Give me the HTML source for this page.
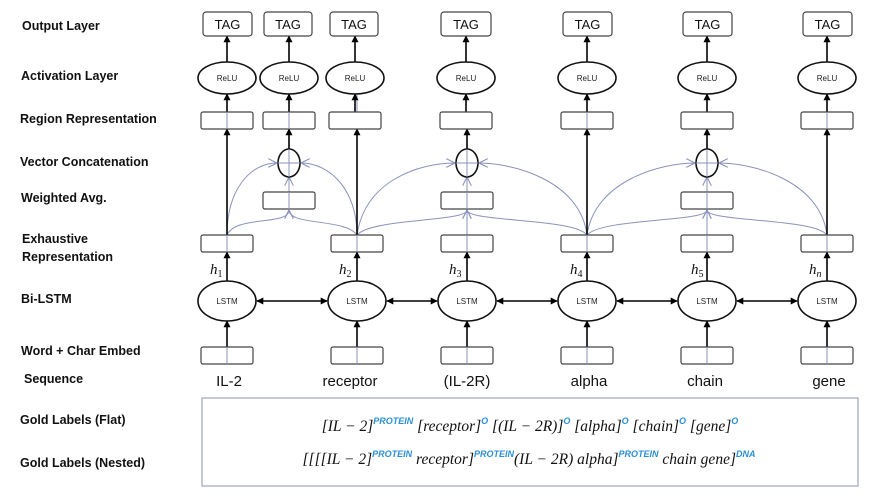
<!DOCTYPE html>
<html><head><meta charset="utf-8"><style>
html,body{margin:0;padding:0;background:#fff;}
svg{display:block;}
.lbl{font-family:"Liberation Sans",sans-serif;font-weight:bold;font-size:12.5px;fill:#111;}
.box{fill:#fff;stroke:#444;stroke-width:1.2;}
.ell{fill:#fff;stroke:#111;stroke-width:1.6;}
.blk{stroke:#000;stroke-width:1.6;fill:none;}
.blu{stroke:#8a93bd;stroke-width:1;fill:none;}
.sm{font-family:"Liberation Sans",sans-serif;font-size:8px;fill:#222;}
.tag{font-family:"Liberation Sans",sans-serif;font-size:13px;fill:#111;}
.word{font-family:"Liberation Sans",sans-serif;font-size:15px;fill:#111;}
.h{font-family:"Liberation Serif",serif;font-style:italic;font-size:15px;fill:#111;}
.hs{font-family:"Liberation Serif",serif;font-size:10px;fill:#111;}
.m{font-family:"Liberation Serif",serif;font-style:italic;font-size:15.5px;fill:#111;}
.sup{font-family:"Liberation Sans",sans-serif;font-style:italic;font-weight:bold;font-size:9px;fill:#2a8fd6;}
</style></head><body>
<svg width="886" height="498" viewBox="0 0 886 498" xmlns="http://www.w3.org/2000/svg">
<defs>
<marker id="ah" viewBox="0 0 10 10" refX="9" refY="5" markerWidth="7" markerHeight="7" orient="auto-start-reverse" markerUnits="userSpaceOnUse"><path d="M0,0 L10,5 L0,10 z" fill="#000"/></marker>
<marker id="bh" viewBox="0 0 10 10" refX="10" refY="5" markerWidth="9" markerHeight="9" orient="auto" markerUnits="userSpaceOnUse"><path d="M0,0 L10,5 L0,10" fill="none" stroke="#8a93bd" stroke-width="1.2"/></marker>
</defs>

<text class="lbl" x="22" y="30">Output Layer</text>
<text class="lbl" x="21" y="80">Activation Layer</text>
<text class="lbl" x="20" y="123">Region Representation</text>
<text class="lbl" x="20" y="166">Vector Concatenation</text>
<text class="lbl" x="21" y="202">Weighted Avg.</text>
<text class="lbl" x="22" y="243">Exhaustive</text>
<text class="lbl" x="22" y="261">Representation</text>
<text class="lbl" x="21" y="303">Bi-LSTM</text>
<text class="lbl" x="21" y="355">Word + Char Embed</text>
<text class="lbl" x="24" y="383">Sequence</text>
<text class="lbl" x="20" y="424">Gold Labels (Flat)</text>
<text class="lbl" x="20" y="467">Gold Labels (Nested)</text>

<g class="blu">
<line x1="227" y1="364" x2="227" y2="94"/>
<line x1="357" y1="364" x2="357" y2="94"/>
<line x1="467" y1="364" x2="467" y2="235"/>
<line x1="587" y1="364" x2="587" y2="94"/>
<line x1="707" y1="364" x2="707" y2="235"/>
<line x1="827" y1="364" x2="827" y2="94"/>
<line x1="289" y1="209" x2="289" y2="177" marker-end="url(#bh)"/>
<line x1="467" y1="235" x2="467" y2="177" marker-end="url(#bh)"/>
<line x1="707" y1="235" x2="707" y2="177" marker-end="url(#bh)"/>
</g>

<g class="blu">
<path d="M227 235 C227 190, 250 163, 277 163" marker-end="url(#bh)"/>
<path d="M227 235 C236 215, 289 226, 289 210" marker-end="url(#bh)"/>
<path d="M357 235 C357 190, 330 163, 301 163" marker-end="url(#bh)"/>
<path d="M357 235 C345 218, 289 226, 289 210" marker-end="url(#bh)"/>
<path d="M357 235 C365 180, 420 163, 455 163" marker-end="url(#bh)"/>
<path d="M357 235 C372 218, 467 222, 467 210" marker-end="url(#bh)"/>
<path d="M587 235 C580 180, 512 163, 479 163" marker-end="url(#bh)"/>
<path d="M587 235 C574 218, 467 222, 467 210" marker-end="url(#bh)"/>
<path d="M587 235 C595 180, 662 163, 695 163" marker-end="url(#bh)"/>
<path d="M587 235 C602 218, 707 222, 707 210" marker-end="url(#bh)"/>
<path d="M827 235 C820 180, 752 163, 719 163" marker-end="url(#bh)"/>
<path d="M827 235 C814 218, 707 222, 707 210" marker-end="url(#bh)"/>
</g>

<g class="blk" marker-end="url(#ah)">
<line x1="227" y1="347" x2="227" y2="321"/><line x1="357" y1="347" x2="357" y2="321"/>
<line x1="467" y1="347" x2="467" y2="321"/><line x1="587" y1="347" x2="587" y2="321"/>
<line x1="707" y1="347" x2="707" y2="321"/><line x1="827" y1="347" x2="827" y2="321"/>
<line x1="227" y1="281" x2="227" y2="252"/><line x1="357" y1="281" x2="357" y2="252"/>
<line x1="467" y1="281" x2="467" y2="252"/><line x1="587" y1="281" x2="587" y2="252"/>
<line x1="707" y1="281" x2="707" y2="252"/><line x1="827" y1="281" x2="827" y2="252"/>
<line x1="227" y1="235" x2="227" y2="129"/><line x1="357" y1="235" x2="357" y2="129"/>
<line x1="587" y1="235" x2="587" y2="129"/><line x1="827" y1="235" x2="827" y2="129"/>
<line x1="289" y1="149" x2="289" y2="129"/><line x1="467" y1="149" x2="467" y2="129"/>
<line x1="707" y1="149" x2="707" y2="129"/>
<line x1="227" y1="112" x2="227" y2="94"/><line x1="289" y1="112" x2="289" y2="94"/>
<line x1="355" y1="112" x2="355" y2="94"/><line x1="466" y1="112" x2="466" y2="94"/>
<line x1="587" y1="112" x2="587" y2="94"/><line x1="707" y1="112" x2="707" y2="94"/>
<line x1="827" y1="112" x2="827" y2="94"/>
<line x1="227" y1="62" x2="227" y2="36"/><line x1="289" y1="62" x2="289" y2="36"/>
<line x1="355" y1="62" x2="355" y2="36"/><line x1="466" y1="62" x2="466" y2="36"/>
<line x1="587" y1="62" x2="587" y2="36"/><line x1="707" y1="62" x2="707" y2="36"/>
<line x1="827" y1="62" x2="827" y2="36"/>
</g>
<g class="blk" marker-start="url(#ah)" marker-end="url(#ah)">
<line x1="257" y1="301" x2="327" y2="301"/>
<line x1="387" y1="301" x2="437" y2="301"/>
<line x1="497" y1="301" x2="557" y2="301"/>
<line x1="617" y1="301" x2="677" y2="301"/>
<line x1="737" y1="301" x2="797" y2="301"/>
</g>

<g>
<rect class="box" x="203" y="12" width="49" height="24" rx="3"/><text class="tag" x="227.5" y="29" text-anchor="middle">TAG</text>
<rect class="box" x="264" y="12" width="48" height="24" rx="3"/><text class="tag" x="288" y="29" text-anchor="middle">TAG</text>
<rect class="box" x="330" y="12" width="48" height="24" rx="3"/><text class="tag" x="354" y="29" text-anchor="middle">TAG</text>
<rect class="box" x="441" y="12" width="50" height="24" rx="3"/><text class="tag" x="466" y="29" text-anchor="middle">TAG</text>
<rect class="box" x="563" y="12" width="49" height="24" rx="3"/><text class="tag" x="587.5" y="29" text-anchor="middle">TAG</text>
<rect class="box" x="683" y="12" width="49" height="24" rx="3"/><text class="tag" x="707.5" y="29" text-anchor="middle">TAG</text>
<rect class="box" x="803" y="12" width="49" height="24" rx="3"/><text class="tag" x="827.5" y="29" text-anchor="middle">TAG</text>
</g>

<g>
<ellipse class="ell" cx="227" cy="78" rx="29" ry="16"/><text class="sm" x="227" y="81" text-anchor="middle">ReLU</text>
<ellipse class="ell" cx="289" cy="78" rx="29" ry="16"/><text class="sm" x="289" y="81" text-anchor="middle">ReLU</text>
<ellipse class="ell" cx="355" cy="78" rx="29" ry="16"/><text class="sm" x="355" y="81" text-anchor="middle">ReLU</text>
<ellipse class="ell" cx="466" cy="78" rx="29" ry="16"/><text class="sm" x="466" y="81" text-anchor="middle">ReLU</text>
<ellipse class="ell" cx="587" cy="78" rx="29" ry="16"/><text class="sm" x="587" y="81" text-anchor="middle">ReLU</text>
<ellipse class="ell" cx="707" cy="78" rx="29" ry="16"/><text class="sm" x="707" y="81" text-anchor="middle">ReLU</text>
<ellipse class="ell" cx="827" cy="78" rx="29" ry="16"/><text class="sm" x="827" y="81" text-anchor="middle">ReLU</text>
</g>

<g>
<rect class="box" x="201" y="112" width="52" height="17" rx="2"/>
<rect class="box" x="263" y="112" width="52" height="17" rx="2"/>
<rect class="box" x="329" y="112" width="52" height="17" rx="2"/>
<rect class="box" x="440" y="112" width="52" height="17" rx="2"/>
<rect class="box" x="561" y="112" width="52" height="17" rx="2"/>
<rect class="box" x="681" y="112" width="52" height="17" rx="2"/>
<rect class="box" x="801" y="112" width="52" height="17" rx="2"/>
</g>
<line class="blu" x1="227" y1="129" x2="227" y2="112"/><line class="blu" x1="289" y1="129" x2="289" y2="112"/>
<line class="blu" x1="587" y1="129" x2="587" y2="112"/><line class="blu" x1="827" y1="129" x2="827" y2="112"/>

<g>
<ellipse class="ell" cx="289" cy="163" rx="11" ry="14"/>
<ellipse class="ell" cx="467" cy="163" rx="11" ry="14"/>
<ellipse class="ell" cx="707" cy="163" rx="11" ry="14"/>
</g>
<g class="blu">
<line x1="278" y1="163" x2="300" y2="163"/><line x1="289" y1="149" x2="289" y2="177"/>
<line x1="456" y1="163" x2="478" y2="163"/><line x1="467" y1="149" x2="467" y2="177"/>
<line x1="696" y1="163" x2="718" y2="163"/><line x1="707" y1="149" x2="707" y2="177"/>
</g>

<g>
<rect class="box" x="263" y="192" width="52" height="17" rx="2"/>
<rect class="box" x="441" y="192" width="52" height="17" rx="2"/>
<rect class="box" x="681" y="192" width="52" height="17" rx="2"/>
</g>
<g class="blu">
<line x1="289" y1="209" x2="289" y2="192"/><line x1="467" y1="209" x2="467" y2="192"/><line x1="707" y1="209" x2="707" y2="192"/>
</g>

<g>
<rect class="box" x="201" y="235" width="52" height="17" rx="2"/>
<rect class="box" x="331" y="235" width="52" height="17" rx="2"/>
<rect class="box" x="441" y="235" width="52" height="17" rx="2"/>
<rect class="box" x="561" y="235" width="52" height="17" rx="2"/>
<rect class="box" x="681" y="235" width="52" height="17" rx="2"/>
<rect class="box" x="801" y="235" width="52" height="17" rx="2"/>
</g>
<g class="blu">
<line x1="227" y1="252" x2="227" y2="235"/><line x1="357" y1="252" x2="357" y2="235"/><line x1="467" y1="252" x2="467" y2="235"/>
<line x1="587" y1="252" x2="587" y2="235"/><line x1="707" y1="252" x2="707" y2="235"/><line x1="827" y1="252" x2="827" y2="235"/>
</g>

<text class="h" x="210" y="274">h<tspan class="hs" dy="3" font-style="normal">1</tspan></text>
<text class="h" x="339" y="274">h<tspan class="hs" dy="3" font-style="normal">2</tspan></text>
<text class="h" x="449" y="274">h<tspan class="hs" dy="3" font-style="normal">3</tspan></text>
<text class="h" x="570" y="274">h<tspan class="hs" dy="3" font-style="normal">4</tspan></text>
<text class="h" x="691" y="274">h<tspan class="hs" dy="3" font-style="normal">5</tspan></text>
<text class="h" x="809" y="274">h<tspan class="hs" dy="3">n</tspan></text>

<g>
<ellipse class="ell" cx="227" cy="301" rx="29" ry="20"/><text class="sm" x="227" y="304" text-anchor="middle">LSTM</text>
<ellipse class="ell" cx="357" cy="301" rx="29" ry="20"/><text class="sm" x="357" y="304" text-anchor="middle">LSTM</text>
<ellipse class="ell" cx="467" cy="301" rx="29" ry="20"/><text class="sm" x="467" y="304" text-anchor="middle">LSTM</text>
<ellipse class="ell" cx="587" cy="301" rx="29" ry="20"/><text class="sm" x="587" y="304" text-anchor="middle">LSTM</text>
<ellipse class="ell" cx="707" cy="301" rx="29" ry="20"/><text class="sm" x="707" y="304" text-anchor="middle">LSTM</text>
<ellipse class="ell" cx="827" cy="301" rx="29" ry="20"/><text class="sm" x="827" y="304" text-anchor="middle">LSTM</text>
</g>

<g>
<rect class="box" x="201" y="347" width="52" height="17" rx="2"/>
<rect class="box" x="331" y="347" width="52" height="17" rx="2"/>
<rect class="box" x="441" y="347" width="52" height="17" rx="2"/>
<rect class="box" x="561" y="347" width="52" height="17" rx="2"/>
<rect class="box" x="681" y="347" width="52" height="17" rx="2"/>
<rect class="box" x="801" y="347" width="52" height="17" rx="2"/>
</g>
<g class="blu">
<line x1="227" y1="364" x2="227" y2="347"/><line x1="357" y1="364" x2="357" y2="347"/><line x1="467" y1="364" x2="467" y2="347"/>
<line x1="587" y1="364" x2="587" y2="347"/><line x1="707" y1="364" x2="707" y2="347"/><line x1="827" y1="364" x2="827" y2="347"/>
</g>

<text class="word" x="229" y="386" text-anchor="middle">IL-2</text>
<text class="word" x="350" y="386" text-anchor="middle">receptor</text>
<text class="word" x="467" y="386" text-anchor="middle">(IL-2R)</text>
<text class="word" x="589" y="386" text-anchor="middle">alpha</text>
<text class="word" x="705" y="386" text-anchor="middle">chain</text>
<text class="word" x="829" y="386" text-anchor="middle">gene</text>

<rect x="202" y="398" width="656" height="88" fill="#fff" stroke="#9ea3bf" stroke-width="1.2"/>
<text class="m" x="530" y="431" text-anchor="middle">[IL − 2]<tspan class="sup" dy="-7">PROTEIN</tspan><tspan dy="7"> [receptor]</tspan><tspan class="sup" dy="-7">O</tspan><tspan dy="7"> [(IL − 2R)]</tspan><tspan class="sup" dy="-7">O</tspan><tspan dy="7"> [alpha]</tspan><tspan class="sup" dy="-7">O</tspan><tspan dy="7"> [chain]</tspan><tspan class="sup" dy="-7">O</tspan><tspan dy="7"> [gene]</tspan><tspan class="sup" dy="-7">O</tspan></text>
<text class="m" x="529" y="464" text-anchor="middle">[[[[IL − 2]<tspan class="sup" dy="-7">PROTEIN</tspan><tspan dy="7"> receptor]</tspan><tspan class="sup" dy="-7">PROTEIN</tspan><tspan dy="7">(IL − 2R) alpha]</tspan><tspan class="sup" dy="-7">PROTEIN</tspan><tspan dy="7"> chain  gene]</tspan><tspan class="sup" dy="-7">DNA</tspan></text>
</svg>
</body></html>
